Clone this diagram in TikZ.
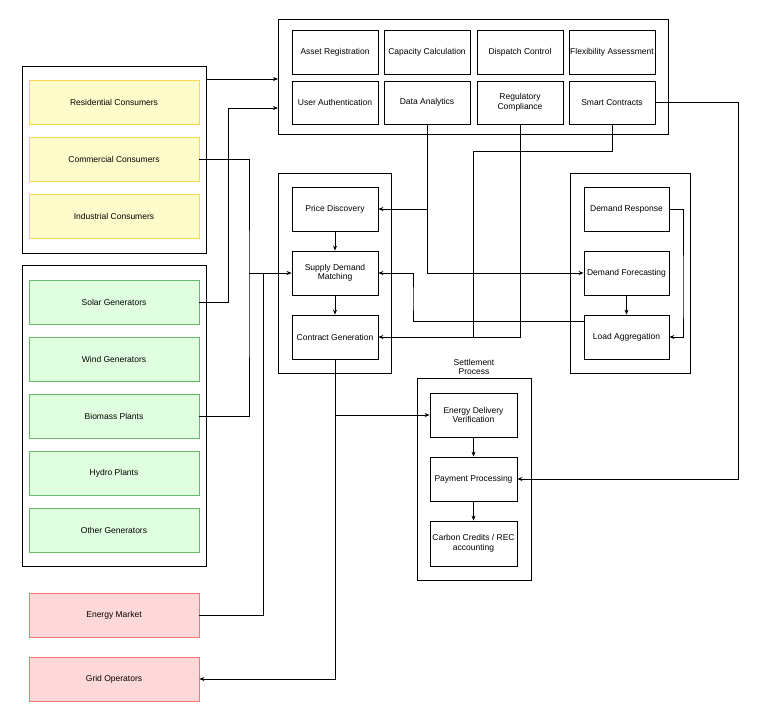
\documentclass[tikz,border=0pt]{standalone}
\usepackage{fontspec}
\setmainfont{Liberation Sans}
\usetikzlibrary{arrows.meta}
\begin{document}
\begin{tikzpicture}[x=1pt,y=-1pt,
 box/.style={draw,line width=0.8pt,align=center,font=\fontsize{8.5}{9.5}\selectfont,inner sep=1pt},
 cont/.style={draw,line width=0.8pt},
 yel/.style={box,draw=yellow!60!orange!70,fill=yellow!20},
 grn/.style={box,draw=green!55!black!60,fill=green!12},
 red/.style={box,draw=red!55,fill=red!15},
 ar/.style={-{Stealth[length=5pt,width=4pt]},line width=0.7pt},
 ln/.style={line width=0.7pt}]
\useasboundingbox (0,0) rectangle (768,722);
\newcommand\bx[6]{\node[#1,minimum width=#4-#2,minimum height=#5-#3] (#6) at ({(#2+#4)/2},{(#3+#5)/2})}
% containers
\draw[cont] (278,19) rectangle (668,134);
\draw[cont] (22,66) rectangle (206,253);
\draw[cont] (22,265) rectangle (206,566);
\draw[cont] (278,173) rectangle (391,373);
\draw[cont] (570,173) rectangle (690,373);
\draw[cont] (417,378) rectangle (531,580);
\coordinate (top) at (278,79);
\coordinate (top2) at (278,108);
\node[font=\fontsize{8.5}{9.5}\selectfont,align=center] (sl) at (474,367) {Settlement\\Process};
% top boxes
\bx{box}{292}{30}{378}{74}{ar1} {Asset Registration};
\bx{box}{384}{30}{470}{74}{cc} {Capacity Calculation};
\bx{box}{477}{30}{563}{74}{dc} {Dispatch Control};
\bx{box}{569}{30}{655}{74}{fa} {Flexibility Assessment};
\bx{box}{292}{81}{378}{124}{ua} {User Authentication};
\bx{box}{384}{81}{470}{124}{da} {Data Analytics};
\bx{box}{477}{81}{563}{124}{rc} {Regulatory\\Compliance};
\bx{box}{569}{81}{655}{124}{sc} {Smart Contracts};
% consumers
\bx{yel}{29}{80}{199}{124}{res} {Residential Consumers};
\bx{yel}{29}{137}{199}{181}{com} {Commercial Consumers};
\bx{yel}{29}{194}{199}{238}{ind} {Industrial Consumers};
\bx{grn}{29}{280}{199}{324}{sol} {Solar Generators};
\bx{grn}{29}{337}{199}{381}{wind} {Wind Generators};
\bx{grn}{29}{394}{199}{438}{bio} {Biomass Plants};
\bx{grn}{29}{451}{199}{495}{hyd} {Hydro Plants};
\bx{grn}{29}{508}{199}{552}{oth} {Other Generators};
\bx{red}{29}{593}{199}{637}{em} {Energy Market};
\bx{red}{29}{657}{199}{701}{go} {Grid Operators};
% market
\bx{box}{292}{187}{378}{231}{pd} {Price Discovery};
\bx{box}{292}{251}{378}{295}{sdm} {Supply Demand\\Matching};
\bx{box}{292}{315}{378}{359}{cg} {Contract Generation};
\bx{box}{584}{187}{669}{231}{dr} {Demand Response};
\bx{box}{584}{251}{669}{295}{df} {Demand Forecasting};
\bx{box}{584}{315}{669}{359}{la} {Load Aggregation};
\bx{box}{430}{393}{517}{437}{edv} {Energy Delivery\\Verification};
\bx{box}{430}{457}{517}{501}{pp} {Payment Processing};
\bx{box}{430}{521}{517}{566}{ccr} {Carbon Credits / REC\\accounting};
% connectors
\draw[ar] (206,79) -- (top);
\draw[ar] (sol.east) -| (228,108) -- (top2);
\draw[ln] (com.east) -| (249,300) |- (bio.east);
\draw[ar] (249,273) -- (sdm.west);
\draw[ln] (em.east) -| (263,273);
\draw[ar] (da.south) |- (pd.east);
\draw[ar] (427,207) |- (df.west);
\draw[ar] (rc.south) |- (cg.east);
\draw[ln] (sc.south) |- (473,151) -- (473,337);
\draw[ar] (sc.east) -| (738,300) |- (pp.east);
\draw[ar] (dr.east) -| (683,300) |- (la.east);
\draw[ar] (584,321) -| (413,300) |- (sdm.east);
\draw[ar] (pd) -- (sdm);
\draw[ar] (sdm) -- (cg);
\draw[ar] (df) -- (la);
\draw[ar] (edv) -- (pp);
\draw[ar] (pp) -- (ccr);
\draw[ar] (cg.south) |- (go.east);
\draw[ar] (cg.south |- edv.west) -- (edv.west);
\end{tikzpicture}
\end{document}
